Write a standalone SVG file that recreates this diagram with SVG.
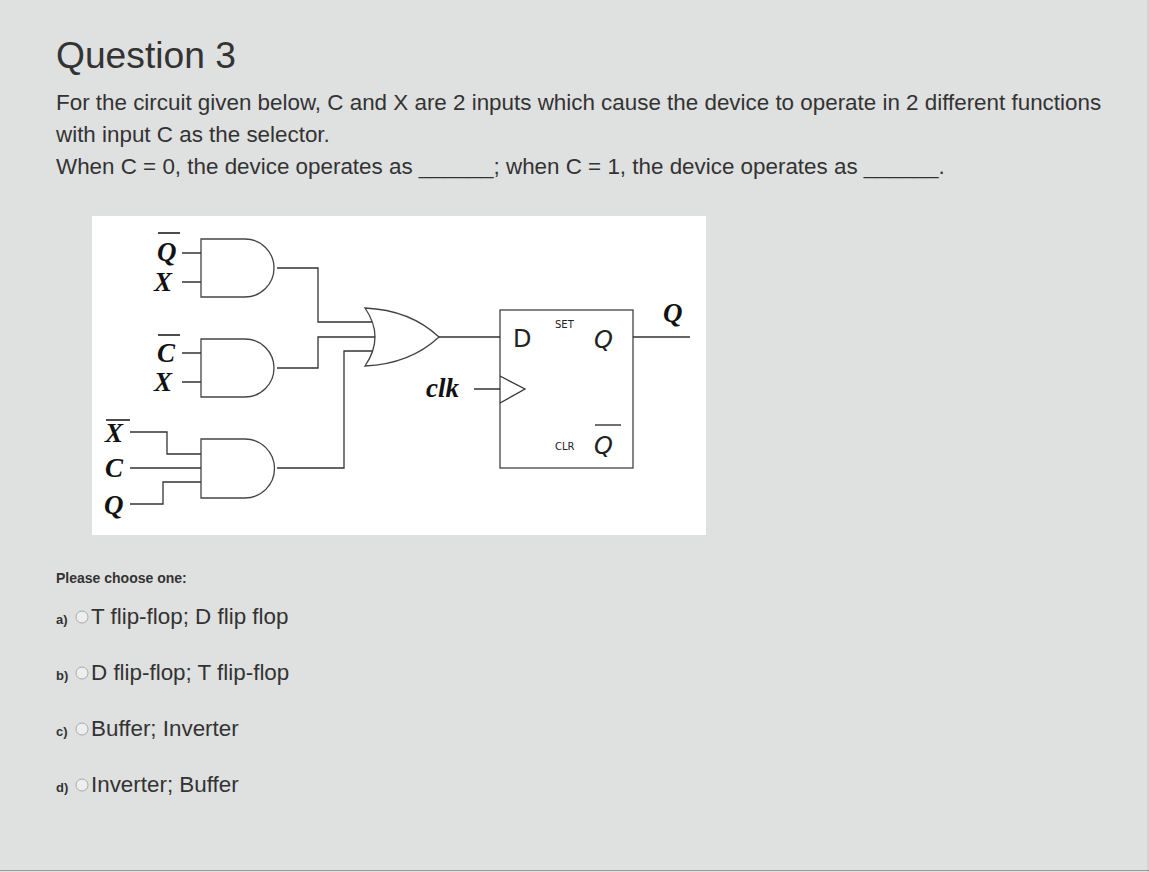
<svg xmlns="http://www.w3.org/2000/svg" width="1149" height="872" viewBox="0 0 1149 872">
<style>
.w{fill:none;stroke:#333;stroke-width:1.3}
.g{fill:#fff;stroke:#444;stroke-width:1.3}
.lb{font-family:"Liberation Serif",serif;font-style:italic;font-weight:bold;font-size:27px;fill:#111}
.t{font-family:"Liberation Sans",Arial,sans-serif;fill:#333}
.bx{font-family:"DejaVu Sans",sans-serif;fill:#222}
.r{fill:#eee;stroke:#aaa;stroke-width:1}
</style>
<rect width="1149" height="872" fill="#dfe0e0"/>
<line x1="1148" y1="0" x2="1148" y2="872" stroke="#c8c8c8"/>
<line x1="0" y1="870.5" x2="1149" y2="870.5" stroke="#999"/>
<text class="t" x="56" y="68" font-size="37.2">Question 3</text>
<text class="t" x="56" y="110" font-size="22.4">For the circuit given below, C and X are 2 inputs which cause the device to operate in 2 different functions</text>
<text class="t" x="56" y="142" font-size="22.4">with input C as the selector.</text>
<text class="t" x="56" y="174" font-size="22.4">When C = 0, the device operates as ______; when C = 1, the device operates as ______.</text>
<rect x="92" y="216" width="614" height="319" fill="#fff"/>
<g id="and1"><path class="g" d="M201,239 H245 A29,29 0 0 1 245,297 H201 Z"/></g>
<g id="and2"><path class="g" d="M201,339 H245 A29,29 0 0 1 245,397 H201 Z"/></g>
<g id="and3"><path class="g" d="M201,439 H245 A29.5,29.5 0 0 1 245,498 H201 Z"/></g>
<g id="or"><path class="g" d="M365,308 Q410,310 439,337 Q410,364 365,366 Q385,337 365,308 Z"/></g>
<g id="dff"><rect x="500" y="310" width="133" height="158" fill="#fff" stroke="#444" stroke-width="1.3"/>
<path class="w" d="M500,376 L525,389 L500,403"/>
<text class="bx" x="513" y="347" font-size="24">D</text>
<text class="bx" x="555" y="328" font-size="10">SET</text>
<text class="bx" x="594" y="348" font-style="italic" font-size="24">Q</text>
<text class="bx" x="555" y="450" font-size="10">CLR</text>
<text class="bx" x="594" y="454" font-style="italic" font-size="24">Q</text>
<line x1="595" y1="425" x2="621" y2="425" stroke="#222" stroke-width="1.3"/>
</g>
<g id="connectors">
<path class="w" d="M182,253H201M182,282H201M182,353H201M182,382H201"/>
<path class="w" d="M130,432H167V454H201M130,468H201M130,504H163V482H201"/>
<path class="w" d="M277,268H318V322H372M277,368H318V337H375M277,468H344V351H372"/>
<path class="w" d="M439,337H500M474,389H500M633,337H690"/>
</g>
<g id="labels">
<text class="lb" x="157" y="261">Q</text><line x1="158" y1="233" x2="180" y2="233" stroke="#111" stroke-width="1.5"/>
<text class="lb" x="154" y="291">X</text>
<text class="lb" x="157" y="362">C</text><line x1="158" y1="335" x2="180" y2="335" stroke="#111" stroke-width="1.5"/>
<text class="lb" x="154" y="391">X</text>
<text class="lb" x="105" y="442">X</text><line x1="106" y1="420" x2="130" y2="420" stroke="#111" stroke-width="1.5"/>
<text class="lb" x="105" y="477">C</text>
<text class="lb" x="104" y="514">Q</text>
<text class="lb" x="426" y="397">clk</text>
<text class="lb" x="663" y="322">Q</text>
</g>
<text class="t" x="56" y="583" font-size="14" font-weight="bold">Please choose one:</text>
<g font-family="Liberation Sans,Arial,sans-serif" fill="#333">
<text x="56" y="624" font-size="13" font-weight="bold">a)</text><circle class="r" cx="82" cy="617" r="6"/><text x="91" y="624" font-size="22.4">T flip-flop; D flip flop</text>
<text x="56" y="680" font-size="13" font-weight="bold">b)</text><circle class="r" cx="82" cy="673" r="6"/><text x="91" y="680" font-size="22.4">D flip-flop; T flip-flop</text>
<text x="56" y="736" font-size="13" font-weight="bold">c)</text><circle class="r" cx="82" cy="729" r="6"/><text x="91" y="736" font-size="22.4">Buffer; Inverter</text>
<text x="56" y="792" font-size="13" font-weight="bold">d)</text><circle class="r" cx="82" cy="785" r="6"/><text x="91" y="792" font-size="22.4">Inverter; Buffer</text>
</g>
</svg>
